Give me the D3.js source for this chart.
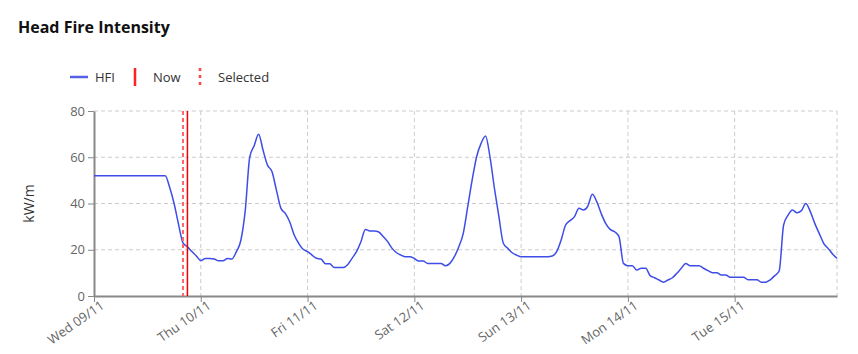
<!DOCTYPE html>
<html>
<head>
<meta charset="utf-8">
<script src="https://cdn.jsdelivr.net/npm/d3@7"></script>
<style>
  body { margin: 0; background: #fff; font-family: "Open Sans", sans-serif; }
  .grid line { stroke: #ccc; stroke-dasharray: 4,3; }
  .axis path, .axis line { stroke: #888; }
  .axis text { fill: #666; font-size: 13px; font-family: "Open Sans", sans-serif; }
</style>
</head>
<body>
<div id="chart"></div>
<script>
// 資料 - hourly HFI from Wed 09/11 00:00
const startTime = new Date(2022, 10, 9, 0, 0)
const hfiValues = [
  52, 52, 52, 52, 52, 52, 52, 52, 52, 52, 52, 52, 52, 52, 52, 52, 52, 47, 40, 31,
  23, 21.3, 19.2, 17.3, 15.3, 16.2, 16.2, 16, 15.2, 15.2, 16.2, 16, 19.2, 24, 37, 60,
  65, 70, 63, 56.6, 53.8, 45.8, 38, 35.7, 32, 26.4, 22.8, 20.2, 19.2, 17.7, 16.3, 16,
  14, 14, 12.3, 12.3, 12.3, 13.5, 16.3, 19.2, 23.5, 28.8, 28.1, 28.1, 27.7, 25.7, 23.5, 20.6,
  18.7, 17.7, 17, 17, 16.2, 15.1, 15.1, 14.1, 14.1, 14.1, 14.1, 13.1, 14.1, 17, 21.3, 27.1,
  38.6, 50.2, 60.2, 66, 69.2, 60.2, 46.6, 34.4, 22.8, 20.6, 18.7, 17.7, 17, 17, 17, 17,
  17, 17, 17, 17.3, 19.2, 24.2, 30.7, 32.6, 34.3, 37.9, 37.2, 38.9, 44, 40.8, 35.7, 31.4,
  28.8, 27.8, 25.7, 14.1, 13.1, 13.1, 11.2, 12, 12, 8.8, 7.9, 6.9, 6, 6.9, 7.9, 9.8,
  12, 14.1, 13.1, 13.1, 13.1, 12, 11, 10.1, 10.1, 9.1, 9.1, 8.1, 8.1, 8.1, 8.1, 7,
  7, 7, 6, 6, 7, 8.8, 10.8, 30.7, 35, 37.2, 36, 36.9, 40, 36.5, 31.4, 27.1,
  22.8, 20.6, 18.2, 16.3
]
const yTicks = [0, 20, 40, 60, 80]
const selectedTime = new Date(2022, 10, 9, 20, 0)
const nowTime = new Date(2022, 10, 9, 21, 0)
const legendItems = ['HFI', 'Now', 'Selected']

const data = hfiValues.map((v, i) => ({ time: d3.timeHour.offset(startTime, i), hfi: v }))

const svg_width = 858
const svg_height = 354
const margin = { top: 111, bottom: 58, right: 21, left: 94 }
const chart_width = svg_width - margin.left - margin.right
const chart_height = svg_height - margin.top - margin.bottom

const svg = d3.select('#chart').append('svg')
  .attr('width', svg_width).attr('height', svg_height)

// title
svg.append('text').attr('x', 18).attr('y', 33)
  .style('font-size', '16px').style('font-weight', 'bold').style('fill', '#111')
  .text('Head Fire Intensity')

const g = svg.append('g').attr('transform', `translate(${margin.left},${margin.top})`)

// scale
const xScale = d3.scaleTime()
  .domain(d3.extent(data, d => d.time))
  .range([0, chart_width])
const yScale = d3.scaleLinear().domain([0, 80]).range([chart_height, 0])

const dayTicks = d3.timeDay.range(startTime, data[data.length - 1].time)

// grid
g.append('g').attr('class', 'grid')
  .selectAll('line').data(yTicks.filter(d => d > 0)).join('line')
  .attr('x1', 0).attr('x2', chart_width)
  .attr('y1', d => yScale(d)).attr('y2', d => yScale(d))
g.append('g').attr('class', 'grid')
  .selectAll('line').data(dayTicks.slice(1).concat([xScale.domain()[1]])).join('line')
  .attr('x1', d => xScale(d)).attr('x2', d => xScale(d))
  .attr('y1', 0).attr('y2', chart_height)

// axes
const yAxis = d3.axisLeft(yScale).tickValues(yTicks).tickSizeOuter(0).tickPadding(3)
g.append('g').attr('class', 'axis y').call(yAxis)
  .call(s => s.select('.domain').attr('stroke-width', 2))

const xAxis = d3.axisBottom(xScale).tickValues(dayTicks)
  .tickFormat(d3.timeFormat('%a %d/%m')).tickSizeOuter(0)
g.append('g').attr('class', 'axis x')
  .attr('transform', `translate(0,${chart_height})`)
  .call(xAxis)
  .call(s => s.select('.domain').attr('stroke-width', 2))
  .selectAll('text')
  .attr('text-anchor', 'end')
  .attr('dx', '0.15em').attr('dy', '0.5em')
  .attr('transform', 'rotate(-35)')

// y label
svg.append('text')
  .attr('transform', `translate(34,${margin.top + chart_height / 2}) rotate(-90)`)
  .attr('text-anchor', 'middle')
  .style('font-size', '14px').style('fill', '#333')
  .text('kW/m')

// line
const line = d3.line().x(d => xScale(d.time)).y(d => yScale(d.hfi)).curve(d3.curveMonotoneX)
g.append('path').datum(data)
  .attr('d', line)
  .attr('fill', 'none').attr('stroke', '#3d4de6').attr('stroke-width', 1.5)

// selected & now markers
g.append('line')
  .attr('x1', xScale(selectedTime)).attr('x2', xScale(selectedTime))
  .attr('y1', 0).attr('y2', chart_height)
  .attr('stroke', '#f66').attr('stroke-width', 2).attr('stroke-dasharray', '4,3')
g.append('line')
  .attr('x1', xScale(nowTime)).attr('x2', xScale(nowTime))
  .attr('y1', 0).attr('y2', chart_height)
  .attr('stroke', '#e00').attr('stroke-width', 1.5)

// legend
const legend = svg.append('g').attr('transform', 'translate(0,77)')
const legendX = [70, 135, 200]
legend.append('line').attr('x1', legendX[0]).attr('x2', legendX[0] + 18)
  .attr('stroke', '#5560e6').attr('stroke-width', 2.5)
legend.append('line').attr('x1', legendX[1]).attr('x2', legendX[1])
  .attr('y1', -9).attr('y2', 9).attr('stroke', '#f22').attr('stroke-width', 2.5)
legend.append('line').attr('x1', legendX[2]).attr('x2', legendX[2])
  .attr('y1', -9).attr('y2', 9).attr('stroke', '#f44').attr('stroke-width', 2.5)
  .attr('stroke-dasharray', '3,4')
legend.selectAll('.ltext').data(legendItems).join('text')
  .attr('class', 'ltext')
  .attr('x', (d, i) => [95, 153, 218][i]).attr('y', 4.5)
  .style('font-size', '13px').style('fill', '#333')
  .text(d => d)
</script>
</body>
</html>
